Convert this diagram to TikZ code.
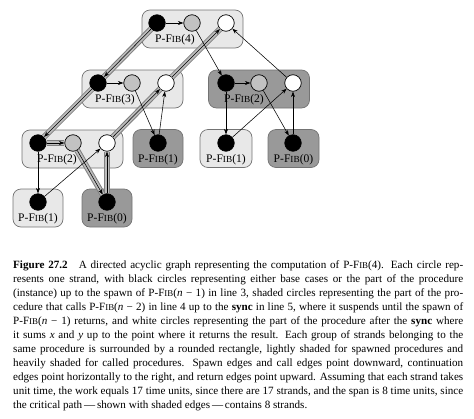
\documentclass[tikz,border=0pt]{standalone}
\usepackage{fontspec}
\setmainfont{Liberation Serif}
\usetikzlibrary{arrows.meta}
\usetikzlibrary{calc}

\definecolor{lightfill}{gray}{0.91}
\definecolor{darkfill}{gray}{0.6}
\definecolor{boxline}{gray}{0.45}
\definecolor{strandgray}{gray}{0.76}
\definecolor{bandedge}{gray}{0.5}
\definecolor{bandfill}{gray}{0.74}

\newcommand{\pfib}[1]{P-F{\fontsize{0.8em}{10pt}\selectfont IB}(#1)}

\begin{document}
\begin{tikzpicture}[x=1pt, y=-1pt, font=\fontsize{11.6pt}{14pt}\selectfont,
    strand/.style={circle, draw, inner sep=0pt, minimum size=16.5pt, line width=0.7pt},
    blk/.style={strand, fill=black},
    shd/.style={strand, fill=strandgray},
    wht/.style={strand, fill=white},
    lightproc/.style={draw=boxline, fill=lightfill, rounded corners=8pt, minimum height=38pt, inner sep=0pt, line width=0.7pt},
    darkproc/.style={lightproc, fill=darkfill},
    edge/.style={-{Stealth[length=5.5pt, width=4pt]}, line width=0.55pt}]
      \useasboundingbox (0,0) rectangle (474,418);

      % procedure boxes
      \node[lightproc, minimum width=101pt] (p4) at (192.5, 29) {};
      \node[lightproc, minimum width=101pt] (p3) at (132.5, 89) {};
      \node[darkproc, minimum width=101pt] (p2r) at (259, 89) {};
      \node[lightproc, minimum width=101pt] (p2l) at (72.5, 149) {};
      \node[darkproc, minimum width=50pt] (p1m) at (158, 148.5) {};
      \node[lightproc, minimum width=52pt] (p1r) at (226, 148.5) {};
      \node[darkproc, minimum width=51pt] (p0r) at (293.5, 148.5) {};
      \node[lightproc, minimum width=50pt] (p1b) at (38, 208) {};
      \node[darkproc, minimum width=50pt] (p0b) at (107, 208) {};

      \node (l4) at (175, 40) {\pfib{4}};
      \node (l3) at (115, 100) {\pfib{3}};
      \node (l2r) at (244, 100) {\pfib{2}};
      \node (l2l) at (57, 160) {\pfib{2}};
      \node (l1m) at (158, 160) {\pfib{1}};
      \node (l1r) at (226, 160) {\pfib{1}};
      \node (l0r) at (293.5, 160) {\pfib{0}};
      \node (l1b) at (38, 219) {\pfib{1}};
      \node (l0b) at (107, 219) {\pfib{0}};

      % strands
      \node[blk] (b4) at (157, 23) {};
      \node[shd] (g4) at (192, 23) {};
      \node[wht] (w4) at (226, 23) {};
      \node[blk] (b3) at (98, 83) {};
      \node[shd] (g3) at (132, 83) {};
      \node[wht] (w3) at (166, 83) {};
      \node[blk] (b2r) at (226, 83) {};
      \node[shd] (g2r) at (259, 83) {};
      \node[wht] (w2r) at (293, 83) {};
      \node[blk] (b2l) at (38, 143) {};
      \node[shd] (g2l) at (73, 143) {};
      \node[wht] (w2l) at (107, 143) {};
      \node[blk] (b1m) at (158, 143) {};
      \node[blk] (b1r) at (226, 143) {};
      \node[blk] (b0r) at (293, 143) {};
      \node[blk] (b1b) at (38, 202) {};
      \node[blk] (b0b) at (107, 202) {};

      % critical path
      \foreach \a/\b in {b4/b3, b3/b2l, b2l/g2l, g2l/b0b, b0b/w2l, w2l/w3, w3/w4} {
        \draw[bandedge, line width=6pt] (\a) -- (\b);
        \draw[bandfill, line width=4pt] (\a) -- (\b);
      }

      \foreach \a/\b in {b4/b3, b4/g4, g4/b2r, w2r/w4, w3/w4,
                         b3/b2l, b3/g3, g3/b1m, b1m/w3, w2l/w3,
                         b2l/b1b, b2l/g2l, g2l/b0b, b1b/w2l, b0b/w2l,
                         b2r/b1r, b2r/g2r, g2r/b0r, b1r/w2r, b0r/w2r}
        \draw[edge] (\a) -- (\b);

      \node[anchor=north west, inner sep=0pt, text width=450pt, align=justify,
            font=\fontsize{11.1pt}{14pt}\selectfont] (caption) at (13, 260)
        {\tolerance=10000 \textbf{Figure 27.2}\quad A directed acyclic graph representing the computation of \pfib{4}. Each circle rep-\linebreak
        resents one strand, with black circles representing either base cases or the part of the procedure\linebreak
        (instance) up to the spawn of \pfib{\textit{n} − 1} in line 3, shaded circles representing the part of the pro-\linebreak
        cedure that calls \pfib{\textit{n} − 2} in line 4 up to the \textbf{sync} in line 5, where it suspends until the spawn of\linebreak
        \pfib{\textit{n} − 1} returns, and white circles representing the part of the procedure after the \textbf{sync} where\linebreak
        it sums \textit{x} and \textit{y} up to the point where it returns the result. Each group of strands belonging to the\linebreak
        same procedure is surrounded by a rounded rectangle, lightly shaded for spawned procedures and\linebreak
        heavily shaded for called procedures. Spawn edges and call edges point downward, continuation\linebreak
        edges point horizontally to the right, and return edges point upward. Assuming that each strand takes\linebreak
        unit time, the work equals 17 time units, since there are 17 strands, and the span is 8 time units, since\linebreak
        the critical path\,---\,shown with shaded edges\,---\,contains 8 strands.};
    \end{tikzpicture}
\end{document}
